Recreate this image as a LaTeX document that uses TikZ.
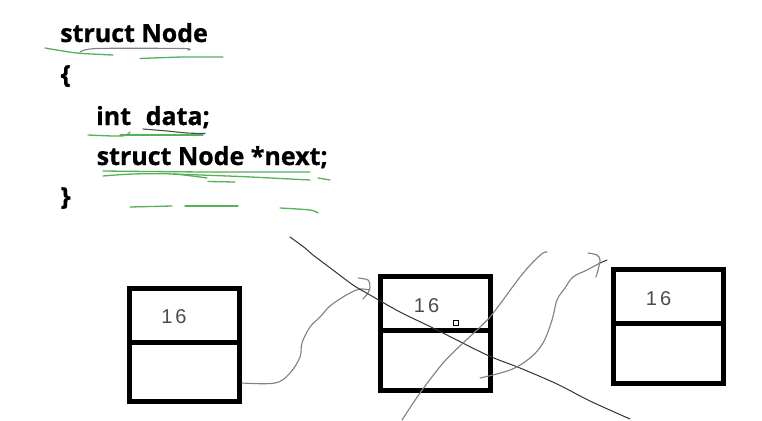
\documentclass[tikz,border=0pt]{standalone}
\usepackage{fontspec}
\setmainfont{Open Sans}[BoldFeatures={FakeBold=0.7}]
\newfontfamily\handfont{Liberation Sans}
\usetikzlibrary{calc}
\definecolor{pen}{RGB}{85,178,85}
\definecolor{pencil}{RGB}{128,128,128}
\tikzset{
  code/.style={anchor=base west, inner sep=0, font=\fontsize{25}{30}\selectfont\bfseries},
  cell/.style={draw, line width=5pt, minimum width=110pt, inner sep=0, outer sep=0},
  hand/.style={inner sep=0, text=black!70, font=\handfont\fontsize{20}{24}\selectfont},
  greenstroke/.style={draw=pen, line width=1.3pt, line cap=round, line join=round},
  graystroke/.style={draw=pencil, line width=1.1pt, line cap=round, line join=round},
  blackstroke/.style={draw=black!80, line width=1pt, line cap=round, line join=round}
}
\begin{document}
\begin{tikzpicture}[x=1pt,y=-1pt]
\useasboundingbox[fill=white] (0,0) rectangle (762,420);

% code text
\node[code] (l1) at (60,42) {struct Node};
\node[code] (l2) at (60.5,83) {\{};
\node[code] (l3a) at (96,125) {int};
\node[code] (l3b) at (145.5,125) {data;};
\node[code] (l4) at (96.5,165) {struct Node *next;};
\node[code] (l5) at (60.5,205) {\}};

% underline strokes
\draw[greenstroke] plot[smooth] coordinates {(45,48) (77,53) (113,55)};
\draw[graystroke] plot[smooth] coordinates {(80,52) (97,48.5) (183,48.5) (188,50)};
\draw[greenstroke] plot[smooth] coordinates {(140,58.5) (183,57) (223,57)};
\draw[greenstroke] plot[smooth] coordinates {(88,135) (122,136) (130,132)};
\draw[greenstroke] (120,135) -- (203,135);
\draw[graystroke, draw=black!70] plot[smooth] coordinates {(143,129) (167,131) (187,133) (205,133.5)};
\draw[greenstroke] plot[smooth] coordinates {(103,171) (207,172) (310,172)};
\draw[greenstroke] plot[smooth] coordinates {(103,176) (133,174) (173,174) (207,178)};
\draw[greenstroke] (208,181.5) -- (235,182);
\draw[greenstroke] plot[smooth] coordinates {(173,174) (240,176.5) (290,179) (310,180)};
\draw[greenstroke] (318,178) -- (330,180);
\draw[greenstroke] (130,207) -- (172,206);
\draw[greenstroke] (185,206) -- (238,206);
\draw[greenstroke] plot[smooth] coordinates {(280,208) (310,210) (318,213)};

% boxes
\node[cell, minimum height=53.5pt] (box1a) at (184.5,315.25) {};
\node[cell, minimum height=59.5pt] (box1b) at (184.5,371.75) {};
\node[cell, minimum height=54pt] (box2a) at (435.5,303.5) {};
\node[cell, minimum height=60pt] (box2b) at (435.5,360.5) {};
\node[cell, minimum height=53.5pt] (box3a) at (668.5,296.25) {};
\node[cell, minimum height=60.5pt] (box3b) at (668.5,353.25) {};

% handwritten values
\node[hand] (v1) at (174,316.5) {1\kern3pt 6};
\node[hand] (v2) at (426.5,305.5) {1\kern3pt 6};
\node[hand] (v3) at (658.5,298.5) {1\kern3pt 6};
\node[draw, line width=1.3pt, minimum size=4.5pt, inner sep=0] (sq) at (456,323) {};

% connectors
\coordinate (a1) at ($(box1b.east)+(2.5,11.25)$);
\coordinate (h1) at (370,290);
\draw[graystroke] plot[smooth, tension=0.6] coordinates {(a1) (275,383) (290,373) (300,357) (302,343) (310,327) (320,317) (330,306) (343,297) (352,292) (360,289) (h1)};
\draw[graystroke] plot[smooth] coordinates {(358,278) (368,280) (370,287) (368,293) (363,299)};

\coordinate (b0) at (290,237);
\coordinate (b1) at (630,419);
\draw[blackstroke] plot[smooth, tension=0.5] coordinates {(b0) (305,248) (313,255) (333,270) (353,285) (370,295) (400,312) (433,328) (487,355) (520,368) (557,384) (590,401) (b1)};

\coordinate (c0) at ($(box2b.center)+(44.5,17.5)$);
\coordinate (c1) at (600,263);
\draw[graystroke] plot[smooth, tension=0.6] coordinates {(c0) (510,370) (530,358) (543,343) (552,320) (557,300) (565,288) (573,277) (587,270) (c1)};
\draw[blackstroke] (c1) -- (607,260);
\draw[graystroke] plot[smooth] coordinates {(588,253) (597,255) (600,260) (598,270) (596,277)};

\coordinate (d0) at (402,420);
\coordinate (d1) at (547,252);
\draw[graystroke] plot[smooth, tension=0.5] coordinates {(d0) (420,393) (443,363) (463,343) (477,330) (490,317) (503,300) (520,277) (533,262) (543,253) (d1)};
\end{tikzpicture}
\end{document}
